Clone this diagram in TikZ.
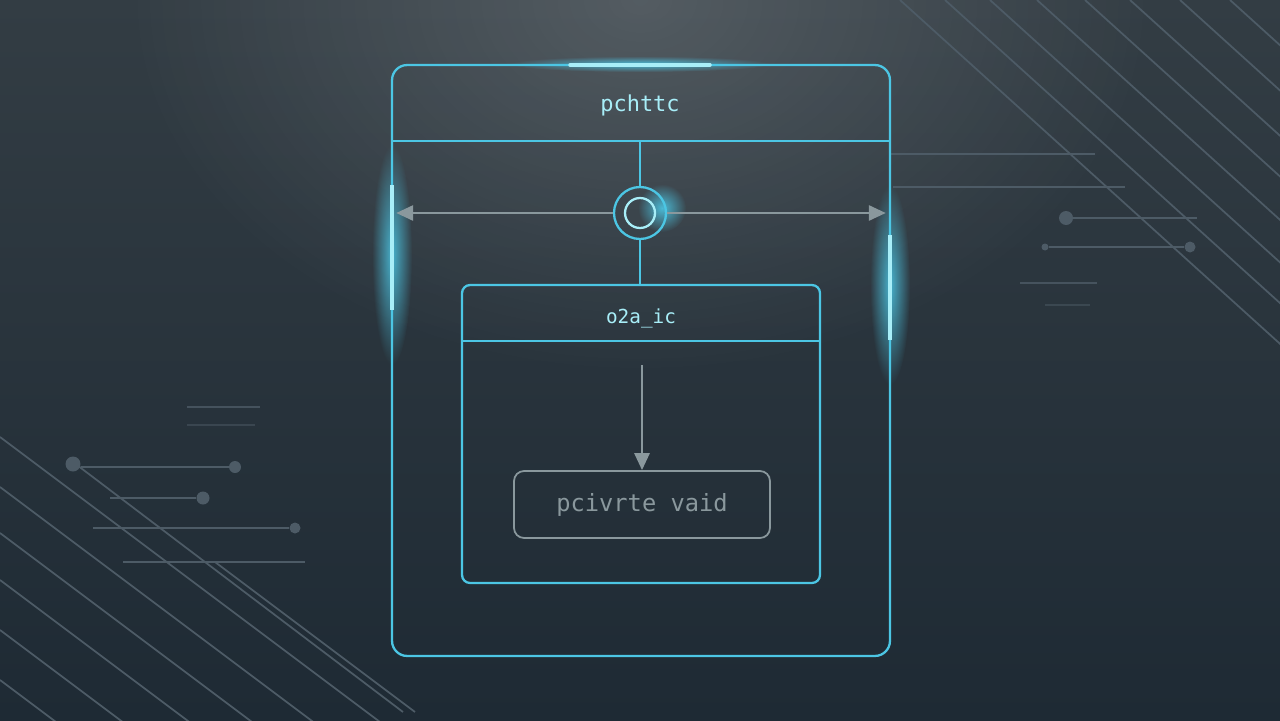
\documentclass[tikz,border=0pt]{standalone}
\usepackage{fontspec}
\setmonofont{DejaVu Sans Mono}
\usetikzlibrary{arrows.meta,calc,fadings,positioning}

\definecolor{bgtop}{HTML}{333D44}
\definecolor{bgbot}{HTML}{1E2A34}
\definecolor{neon}{HTML}{4CC6E4}
\definecolor{neonlt}{HTML}{A8EEF8}
\definecolor{wire}{HTML}{8A989D}
\definecolor{streak}{HTML}{4D5B66}

\tikzfading[name=softglow, inner color=transparent!0, outer color=transparent!100]

\begin{document}
\begin{tikzpicture}[x=0.02cm, y=-0.02cm,
   every node/.style={inner sep=0pt, font=\ttfamily},
   frame/.style={draw=neon, line width=1.3pt, rounded corners=#1},
   glow/.style={fill=neon, path fading=softglow, opacity=#1},
   wirearrow/.style={draw=wire, line width=1.6pt, -{Triangle[length=0.34cm, width=0.3cm]}},
   streakline/.style={draw=streak, line width=1pt},
   dot/.style={circle, fill=streak, minimum size=#1}]

\useasboundingbox (0,0) rectangle (1280,720);

% background and streaks
\begin{scope}
  \clip (0,0) rectangle (1280,720);
  \fill[top color=bgtop, bottom color=bgbot] (0,0) rectangle (1280,720);
  \fill[white, opacity=0.16, path fading=softglow] (640,0) ellipse (520 and 380);
  \foreach \x in {900,945,990,1037,1085,1130,1180,1230}
    \draw[streakline] (\x,0) -- ++(420,380);
  \foreach \y in {437,487,533,580,630,680}
    \draw[streakline] (0,\y) -- ++(480,360);
  \draw[streakline] (73,462) -- ++(330,250);
  \draw[streakline] (215,562) -- ++(200,150);
\end{scope}
\draw[streakline] (890,154) -- (1095,154);
\draw[streakline] (893,187) -- (1125,187);
\node[dot=0.28cm] (ra) at (1066,218) {};
\draw[streakline] (ra) -- (1197,218);
\node[dot=0.14cm] (rb) at (1045,247) {};
\node[dot=0.22cm] (rc) at (1190,247) {};
\draw[streakline] (rb) -- (rc);
\draw[streakline, opacity=0.8] (1020,283) -- (1097,283);
\draw[streakline, opacity=0.5] (1045,305) -- (1090,305);
% streaks bottom left
\draw[streakline, opacity=0.8] (187,407) -- (260,407);
\draw[streakline, opacity=0.5] (187,425) -- (255,425);
\node[dot=0.3cm] (la) at (73,464) {};
\node[dot=0.24cm] (lb) at (235,467) {};
\draw[streakline] (la.east |- lb) -- (lb);
\node[dot=0.26cm] (lc) at (203,498) {};
\draw[streakline] (110,498) -- (lc);
\node[dot=0.22cm] (ld) at (295,528) {};
\draw[streakline] (93,528) -- (ld);
\draw[streakline] (123,562) -- (305,562);

% glows
\fill[glow=0.9] (640,64) ellipse (130 and 8);
\fill[glow=0.85] (392,255) ellipse (20 and 110);
\fill[glow=0.85] (890,285) ellipse (20 and 100);
\fill[glow=0.9] (662,208) circle (24);

% outer class box
\node[frame=0.3cm, minimum width=9.96cm, minimum height=11.82cm] (outer) at (641,360.5) {};
\draw[neon, line width=1.2pt] ([yshift=-1.54cm]outer.north west) coordinate (hl) -- ([yshift=-1.54cm]outer.north east) coordinate (hr);
\node[text=neonlt, font=\ttfamily\fontsize{12.5}{14}\selectfont] (title) at (640,105) {pchttc};
\draw[neonlt, line width=2pt, line cap=round] (570,65) -- (710,65);
\draw[neonlt, line width=1.8pt] (392,185) -- (392,310);
\draw[neonlt, line width=1.8pt] (890,235) -- (890,340);

% inner box
\node[frame=0.16cm, minimum width=7.16cm, minimum height=5.96cm] (inner) at (641,434) {};
\draw[neon, line width=1.2pt] ([yshift=-1.14cm]inner.north west) -- ([yshift=-1.14cm]inner.north east);
\node[text=neonlt, font=\ttfamily\fontsize{11}{13}\selectfont] (sub) at (641,318) {o2a\_ic};

% hub and connectors
\node[circle, draw=neon, line width=1.3pt, minimum size=1.04cm] (hub) at (640,213) {};
\node[circle, draw=neonlt, line width=1.3pt, minimum size=0.6cm] (hubin) at (hub) {};
\draw[neon, line width=1.2pt] (hub.north) -- (hub.north |- hl);
\draw[neon, line width=1.2pt] (hub.south) -- (hub.south |- inner.north);
\coordinate (wl) at (outer.west |- hub);
\coordinate (wr) at (outer.east |- hub);
\draw[wirearrow] (hub.west) -- ([xshift=3]wl);
\draw[wirearrow] (hub.east) -- ([xshift=-3]wr);

% private member
\node[draw=wire, line width=1pt, rounded corners=0.2cm, minimum width=5.12cm, minimum height=1.34cm,
      text=wire, font=\ttfamily\fontsize{13.5}{15}\selectfont] (priv) at (642,504.5) {pcivrte vaid};
\coordinate (dn) at (642,365);
\draw[wirearrow] (dn) -- (priv.north);

\end{tikzpicture}
\end{document}
